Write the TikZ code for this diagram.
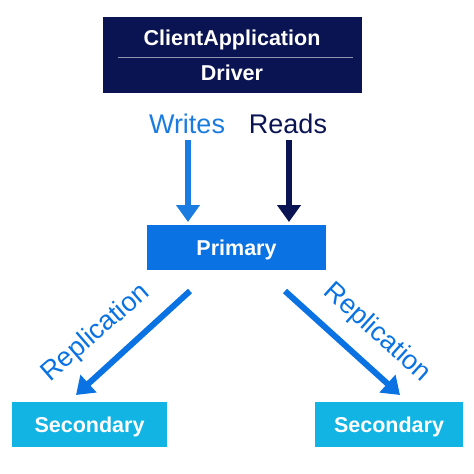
\documentclass[tikz,border=0pt]{standalone}
\usepackage{fontspec}
\setmainfont{Liberation Sans}
\usetikzlibrary{arrows.meta}
\definecolor{navy}{HTML}{0B1452}
\definecolor{prim}{HTML}{0A72E2}
\definecolor{sec}{HTML}{12B4E4}
\definecolor{wblue}{HTML}{1A7BE0}
\begin{document}
\begin{tikzpicture}[x=1pt,y=-1pt,
  boxtext/.style={text=white,font=\bfseries\fontsize{21.5}{24}\selectfont},
  lbl/.style={font=\fontsize{27}{30}\selectfont},
  fatarrow/.style={line width=6pt,-{Triangle[length=17pt,width=23pt]}}]
\useasboundingbox (0,0) rectangle (474,474);
\fill[navy] (103,17) rectangle (362,93);
\node[boxtext] (client) at (232,40) {ClientApplication};
\node[boxtext] (driver) at (232,73) {Driver};
\coordinate (dl) at (118,57.5);
\coordinate (dr) at (353,57.5);
\draw[white!55!navy,line width=0.6pt] (dl) -- (dr);
\node[lbl,text=wblue] (writes) at (187,124) {Writes};
\node[lbl,text=navy] (reads) at (288,124) {Reads};
\node[fill=prim,minimum width=179pt,minimum height=45pt,inner sep=0pt,boxtext,text depth=0pt,text height=15.5pt] (primary) at (236.5,247.5) {Primary};
\node[fill=sec,minimum width=155pt,minimum height=45pt,inner sep=0pt,boxtext,text depth=0pt,text height=15.5pt] (sec1) at (89.5,424.5) {Secondary};
\node[fill=sec,minimum width=148pt,minimum height=45pt,inner sep=0pt,boxtext,text depth=0pt,text height=15.5pt] (sec2) at (389,424.5) {Secondary};
\coordinate (w0) at (188,140);
\coordinate (w1) at (188,222);
\coordinate (r0) at (289,140);
\coordinate (r1) at (289,222);
\draw[fatarrow,wblue] (w0) -- (w1);
\draw[fatarrow,navy] (r0) -- (r1);
\coordinate (l0) at (190,291);
\coordinate (l1) at (76,395);
\coordinate (q0) at (285,291);
\coordinate (q1) at (400,395);
\draw[fatarrow,prim] (l0) -- (l1);
\draw[fatarrow,prim] (q0) -- (q1);
\node[lbl,text=prim,rotate=41] (rep1) at (96,333) {Replication};
\node[lbl,text=prim,rotate=-42] (rep2) at (377,333) {Replication};
\end{tikzpicture}
\end{document}
